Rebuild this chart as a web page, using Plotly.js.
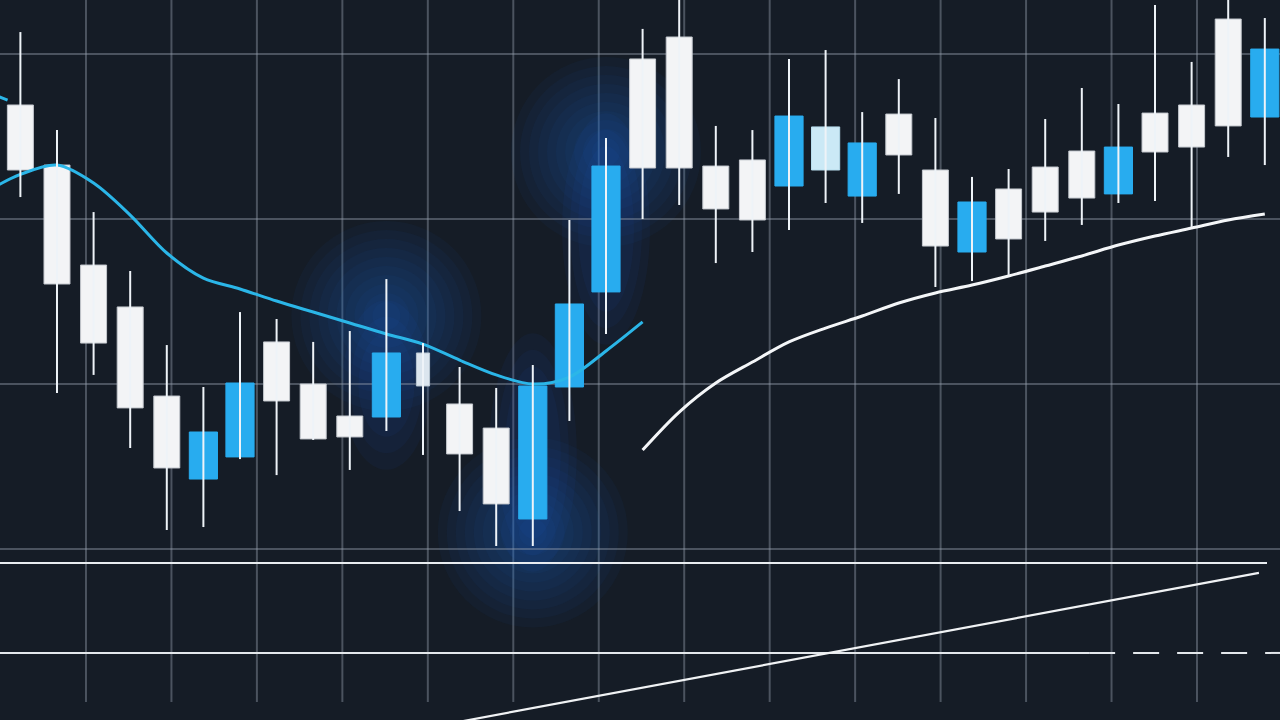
<!DOCTYPE html>
<html>
<head>
<meta charset="utf-8">
<script src="https://cdn.plot.ly/plotly-3.0.1.min.js"></script>
<style>
html,body{margin:0;padding:0;background:#151c26;overflow:hidden}
#chart{width:1280px;height:720px}
</style>
</head>
<body>
<div id="chart"></div>
<script>
// ---- data (price units) ----
const open  = [126.91,123.27,117.21,114.67,109.27,104.24,105.58,112.55,110.00,108.06,108.00,109.88,108.79,107.33,101.82,109.82,115.58,123.09,123.09,123.21,119.94,122.00,122.97,121.39,123.88,122.97,118.00,118.79,120.42,121.27,121.52,124.06,124.36,125.64,126.18];
const high  = [131.33,125.39,120.42,116.85,112.36,109.82,114.36,113.94,112.55,113.21,116.36,112.48,111.03,109.76,111.15,119.94,124.91,131.52,133.60,125.64,125.39,129.70,130.24,126.48,128.48,126.12,122.55,123.03,126.06,127.94,126.97,132.97,129.52,133.60,132.18];
const low   = [121.33,109.45,110.55,106.12,101.15,101.33,105.45,104.48,106.61,104.79,107.15,105.70,102.30,100.18,100.18,107.76,113.03,120.00,120.85,117.33,118.00,119.33,120.97,119.76,121.52,115.88,116.24,116.61,118.67,119.64,120.97,121.09,119.52,123.76,123.27];
const close = [122.97,116.06,112.48,108.55,104.91,107.09,110.06,108.97,106.67,106.79,111.88,111.88,105.76,102.73,109.88,114.85,123.21,129.70,131.03,120.61,123.58,126.24,125.58,124.61,126.36,118.36,121.03,121.82,123.15,124.12,124.36,126.42,126.91,132.12,130.30];
const candleStyle = ['white','white','white','white','white','blue','blue','white','white','white','blue','pale','white','white','blue','blue','blue','white','white','white','white','blue','ice','blue','white','white','blue','white','white','white','blue','white','white','white','blue'];
const glowCandles = [10, 14, 16];
const glowEnd     = ['top', 'bottom', 'top'];

// moving average (cyan) by session index
const maX = [-1,0,1,2,3,4,5,6,7,8,9,10,11,12,13,14,15,16,17];
const maY = [121.58,122.70,123.27,122.18,120.24,117.94,116.42,115.76,115.03,114.36,113.70,113.03,112.42,111.45,110.55,110.00,110.42,112.00,113.76];
const ma2X = [-1,-0.35];
const ma2Y = [127.76,127.21];
// long trend curve (white)
const trendX = [17,18,19,20,21,22,23,24,25,26,27,28,29,30,31,32,33,34];
const trendY = [106.00,108.30,110.06,111.33,112.55,113.39,114.12,114.91,115.52,116.00,116.55,117.15,117.76,118.42,118.97,119.45,119.94,120.30];
// levels
const supportLevel = 99.15;
const lowerLevel = 93.70;
const diagX = [12.0, 33.84];
const diagY = [89.53, 98.55];
const gridLevels = [100, 110, 120, 130];

// ---- build ----
const idx = open.map((_, i) => i);
const XR = [-0.557, 34.415];
const YR = [89.636, 133.273];

const styles = {
  white: {color:'#f3f4f6', line:'#c4c8ce', width:0.71},
  blue:  {color:'#28acef', line:'#28acef', width:0.77},
  pale:  {color:'#dbe5ee', line:'#b9c6d2', width:0.36},
  ice:   {color:'#cbe9f6', line:'#b7dcec', width:0.77}
};

const traces = [];
const shapes = [];

// vertical grid (stops just above the bottom edge)
const gridStart = 1.792, gridStep = 2.335;
for (let g = gridStart; g < XR[1]; g += gridStep) {
  shapes.push({type:'line', layer:'below', xref:'x', yref:'paper', x0:g, x1:g, y0:0.025, y1:1,
    line:{color:'rgba(150,160,175,0.42)', width:2}});
}

// glow halos (shapes sit beneath all traces)
glowCandles.forEach((c, k) => {
  const top = Math.max(open[c], close[c]), bot = Math.min(open[c], close[c]);
  const cy = glowEnd[k] === 'top' ? (high[c] + top) / 2 : (low[c] + bot) / 2;
  for (let r = 95; r >= 12; r -= 9) {
    shapes.push({type:'circle', layer:'below', xref:'x', yref:'y',
      xsizemode:'pixel', ysizemode:'pixel', xanchor:c, yanchor:cy,
      x0:-r, x1:r, y0:-r, y1:r,
      fillcolor:'rgba(30,105,235,0.045)', line:{width:0}});
  }
  // soft elliptical halo along the body
  [44, 36, 28].forEach((w, j) => {
    const pad = 3.2 - j;
    shapes.push({type:'circle', layer:'below', xref:'x', yref:'y',
      xsizemode:'pixel', xanchor:c, x0:-w, x1:w, y0:bot - pad, y1:top + pad,
      fillcolor:'rgba(30,105,235,0.05)', line:{width:0}});
  });
});

// level lines
const splitX = 29.2;
traces.push({type:'scatter', mode:'lines', x:[XR[0], 34.06], y:[supportLevel, supportLevel],
  line:{color:'#e8ecf0', width:2}, hoverinfo:'skip'});
traces.push({type:'scatter', mode:'lines', x:[XR[0], splitX], y:[lowerLevel, lowerLevel],
  line:{color:'#e3e7eb', width:2}, hoverinfo:'skip'});
traces.push({type:'scatter', mode:'lines', x:[splitX, XR[1]], y:[lowerLevel, lowerLevel],
  line:{color:'#e3e7eb', width:2, dash:'26px,18px'}, hoverinfo:'skip'});
traces.push({type:'scatter', mode:'lines', x:diagX, y:diagY,
  line:{color:'#f0f2f4', width:2.2}, hoverinfo:'skip'});

// moving averages
traces.push({type:'scatter', mode:'lines', x:ma2X, y:ma2Y,
  line:{color:'#2bb6e8', width:3}, hoverinfo:'skip'});
traces.push({type:'scatter', mode:'lines', x:maX, y:maY,
  line:{color:'#2bb6e8', width:3, shape:'spline', smoothing:0.9}, hoverinfo:'skip'});
traces.push({type:'scatter', mode:'lines', x:trendX, y:trendY,
  line:{color:'#f4f6f8', width:3, shape:'spline', smoothing:0.9}, hoverinfo:'skip'});

// candle bodies
Object.keys(styles).forEach(key => {
  const sel = idx.filter(i => candleStyle[i] === key);
  const st = styles[key];
  traces.push({type:'bar', x:sel,
    base:sel.map(i => Math.min(open[i], close[i])),
    y:sel.map(i => Math.abs(close[i] - open[i])),
    width:sel.map(() => st.width),
    marker:{color:st.color, line:{color:st.line, width:1}},
    hoverinfo:'skip'});
});

// wicks
const wx = [], wy = [];
idx.forEach(i => { wx.push(i, i, null); wy.push(low[i], high[i], null); });
traces.push({type:'scatter', mode:'lines', x:wx, y:wy,
  line:{color:'#eef3f8', width:2}, hoverinfo:'skip', connectgaps:false});

const layout = {
  width:1280, height:720,
  margin:{l:0, r:0, t:0, b:0, pad:0},
  paper_bgcolor:'#151c26', plot_bgcolor:'#151c26',
  showlegend:false, barmode:'overlay',
  xaxis:{range:XR, showgrid:false, zeroline:false, showticklabels:false, ticks:'', showline:false, fixedrange:true},
  yaxis:{range:YR, tickmode:'array', tickvals:gridLevels, showgrid:true, gridcolor:'rgba(150,160,175,0.42)', gridwidth:2,
    zeroline:false, showticklabels:false, ticks:'', showline:false, fixedrange:true},
  shapes:shapes
};

Plotly.newPlot('chart', traces, layout, {staticPlot:true, displayModeBar:false});
</script>
</body>
</html>
